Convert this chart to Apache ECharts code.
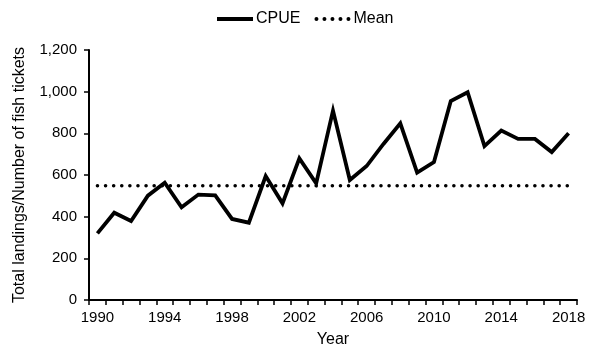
<!DOCTYPE html>
<html>
<head>
<meta charset="utf-8">
<script src="https://cdn.jsdelivr.net/npm/echarts@6/dist/echarts.min.js"></script>
<style>
  html, body { margin: 0; padding: 0; background: #fff; }
  #main { width: 592px; height: 353px; }
</style>
</head>
<body>
<div id="main"></div>
<script>
// Years on the x axis
const years = [];
for (let y = 1990; y <= 2018; y++) years.push(String(y));

// CPUE values
const cpue = [320, 419, 379, 501, 563, 445, 506, 502, 389, 371,
  595, 464, 680, 560, 909, 576, 643, 749, 848, 611,
  662, 955, 997, 739, 813, 773, 773, 710, 800];

// Mean line (constant)
const meanValue = 549;
const mean = years.map(() => meanValue);

const font = "'Liberation Sans', Arial, sans-serif";

// legend icons: solid bar and five round dots
const solidIcon = "path://M0,0H36V4H0Z";
let dotIcon = "path://";
[2, 10, 18, 26, 34].forEach((cx) => {
  dotIcon += `M${cx - 2},2a2,2 0 1,0 4,0a2,2 0 1,0 -4,0Z`;
});

const chart = echarts.init(document.getElementById("main"));
chart.setOption({
  animation: false,
  textStyle: { fontFamily: font, color: "#000" },
  legend: {
    top: 6,
    left: 212,
    itemWidth: 36,
    itemHeight: 4,
    itemGap: 14,
    textStyle: { fontSize: 16, color: "#000", fontFamily: font, padding: [0, 0, 0, -2] },
    data: [
      { name: "CPUE", icon: solidIcon },
      { name: "Mean", icon: dotIcon },
    ],
  },
  grid: { left: 89, right: 15, top: 50, bottom: 53 },
  xAxis: {
    type: "category",
    data: years,
    boundaryGap: true,
    name: "Year",
    nameLocation: "middle",
    nameGap: 32,
    nameTextStyle: { fontSize: 16, color: "#000", fontFamily: font },
    axisLine: { lineStyle: { color: "#000", width: 2 } },
    axisTick: { show: true, interval: 0, length: 5, lineStyle: { color: "#000", width: 1.5 } },
    axisLabel: { interval: 3, fontSize: 15, color: "#000", margin: 10, fontFamily: font },
    splitLine: { show: false },
  },
  yAxis: {
    type: "value",
    min: 0,
    max: 1200,
    interval: 200,
    name: "Total landings/Number of fish tickets",
    nameLocation: "middle",
    nameGap: 61,
    nameTextStyle: { fontSize: 16, color: "#000", fontFamily: font },
    axisLine: { show: true, lineStyle: { color: "#000", width: 2 } },
    axisTick: { show: true, length: 5, lineStyle: { color: "#000", width: 1.5 } },
    axisLabel: {
      fontSize: 15,
      color: "#000",
      margin: 12,
      fontFamily: font,
      formatter: (v) => v.toLocaleString("en-US"),
    },
    splitLine: { show: false },
  },
  series: [
    {
      name: "CPUE",
      type: "line",
      data: cpue,
      symbol: "none",
      lineStyle: { color: "#000", width: 3.8, join: "miter" },
      itemStyle: { color: "#000" },
    },
    {
      name: "Mean",
      type: "line",
      data: mean,
      symbol: "none",
      lineStyle: { color: "#000", width: 3.5, type: [0.1, 8], cap: "round" },
      itemStyle: { color: "#000" },
    },
  ],
});
</script>
</body>
</html>
